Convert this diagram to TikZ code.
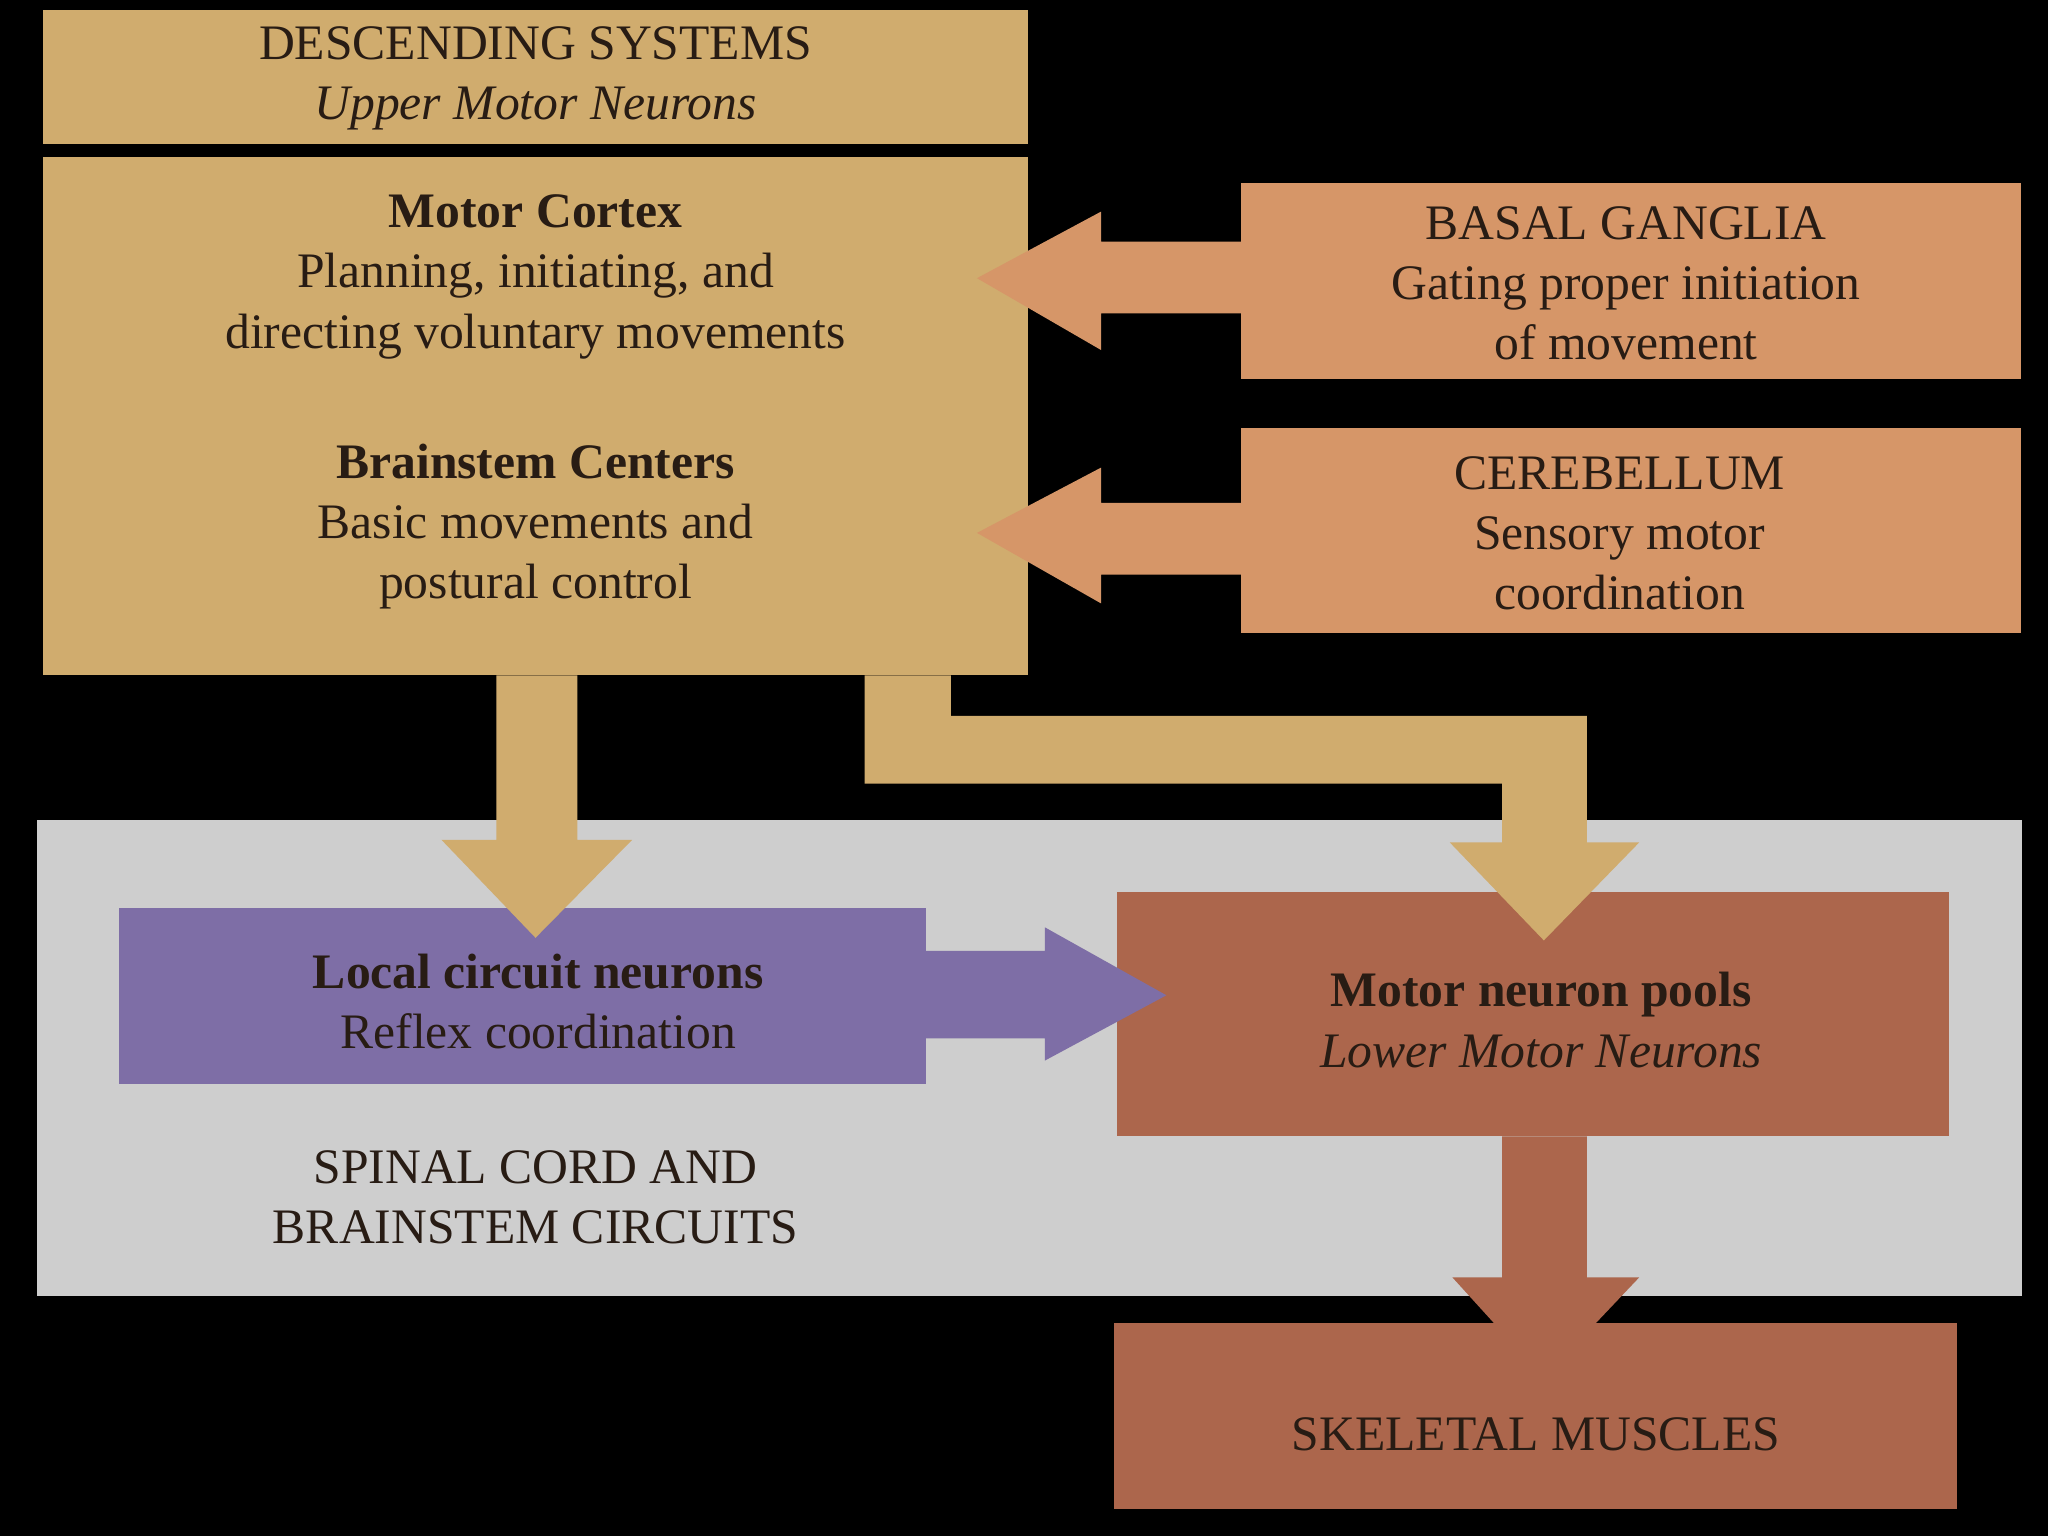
\documentclass[tikz,border=0pt]{standalone}
\usepackage{fontspec}
\setmainfont{Liberation Serif}
\definecolor{tan}{RGB}{208,172,110}
\definecolor{peach}{RGB}{214,150,104}
\definecolor{lilac}{RGB}{126,110,166}
\definecolor{rust}{RGB}{172,102,76}
\definecolor{pale}{RGB}{206,206,206}
\definecolor{ink}{RGB}{40,28,20}
\begin{document}
\begin{tikzpicture}[x=0.5pt,y=0.5pt,yscale=-1,xscale=1,
  txt/.style={text=ink,align=center,font=\fontsize{19}{20}\selectfont,inner sep=0pt}]
%Background
\fill[black] (0,0) rectangle (1568,1176);
\useasboundingbox (0,0) rectangle (1568,1176);

%Shape: Spinal cord panel
\fill[pale] (28,628) rectangle (1548,992);
%Shape: Descending systems
\fill[tan] (33,8) rectangle (787,110);
%Shape: Upper motor block
\fill[tan] (33,120) rectangle (787,517);
%Shape: Basal ganglia
\fill[peach] (950,140) rectangle (1547,290);
%Shape: Cerebellum
\fill[peach] (950,328) rectangle (1547,485);
%Shape: Local circuit neurons
\fill[lilac] (91,695) rectangle (709,830);
%Shape: Motor neuron pools
\fill[rust] (855,683) rectangle (1492,870);
%Shape: Skeletal muscles
\fill[rust] (853,1013) rectangle (1498,1155);

%Block arrows
\fill[peach] (950,185) -- (843,185) -- (843,162) -- (748,213) -- (843,268) -- (843,240) -- (950,240) -- cycle;
\fill[peach] (950,385) -- (843,385) -- (843,358) -- (748,408) -- (843,462) -- (843,440) -- (950,440) -- cycle;
\fill[tan] (380,517) -- (380,643) -- (338,643) -- (410,718) -- (484,643) -- (442,643) -- (442,517) -- cycle;
\fill[tan] (662,517) -- (662,600) -- (1150,600) -- (1150,645) -- (1110,645) -- (1182,720) -- (1255,645) -- (1215,645) -- (1215,548) -- (728,548) -- (728,517) -- cycle;
\fill[lilac] (709,728) -- (800,728) -- (800,710) -- (893,762) -- (800,812) -- (800,795) -- (709,795) -- cycle;
\fill[rust] (1150,870) -- (1150,978) -- (1112,978) -- (1182,1055) -- (1255,978) -- (1215,978) -- (1215,870) -- cycle;

% Text Nodes
\node[txt] (desc) at (410,60) {DESCENDING SYSTEMS\\[3pt]\textit{Upper Motor Neurons}};
\node[txt] (cortex) at (410,212) {\textbf{Motor Cortex}\\[3pt]Planning, initiating, and\\[3pt]directing voluntary movements};
\node[txt] (stem) at (410,403) {\textbf{Brainstem Centers}\\[3pt]Basic movements and\\[3pt]postural control};
\node[txt] (basal) at (1245,217) {BASAL GANGLIA\\[3pt]Gating proper initiation\\[3pt]of movement};
\node[txt] (cereb) at (1240,408) {CEREBELLUM\\[3pt]Sensory motor\\[3pt]coordination};
\node[txt] (local) at (412,767) {\textbf{Local circuit neurons}\\[3pt]Reflex coordination};
\node[txt] (pools) at (1180,781) {\textbf{Motor neuron pools}\\[3pt]\textit{Lower Motor Neurons}};
\node[txt] (spinal) at (410,917) {SPINAL CORD AND\\[3pt]BRAINSTEM CIRCUITS};
\node[txt] (muscle) at (1176,1098) {SKELETAL MUSCLES};
\end{tikzpicture}
\end{document}
